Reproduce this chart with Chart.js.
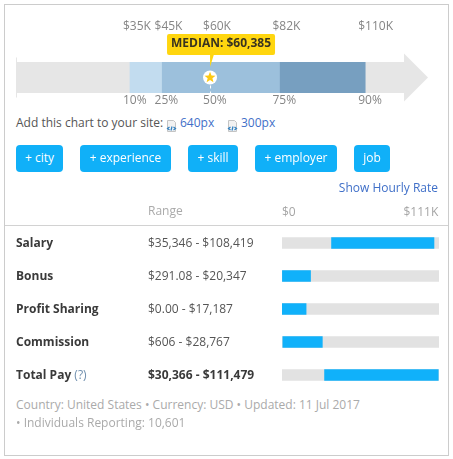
<!DOCTYPE html>
<html>
<head>
<meta charset="utf-8">
<script src="https://cdn.jsdelivr.net/npm/chart.js@4/dist/chart.umd.min.js"></script>
<style>
  html, body { margin: 0; padding: 0; background: #fff; }
  body { width: 453px; height: 459px; position: relative; overflow: hidden; font: 12px "Open Sans", sans-serif; color: #555; }
  #frame { position: absolute; left: 4px; top: 4px; width: 445px; height: 452px; box-sizing: border-box; border: 1px solid #ccc; }
  #rule { position: absolute; left: 5px; top: 225px; width: 443px; height: 1px; background: #d2d2d2; }
  canvas { position: absolute; left: 0; }
  #pctChart { top: 0; }
  #rangeChart { top: 200px; }
  .abs { position: absolute; white-space: nowrap; line-height: 16px; }
  a { color: #3f6fc8; text-decoration: none; }
  .btn { position: absolute; top: 145px; height: 27px; line-height: 26px; text-align: center; color: #fff; background: #10b0f8; border-radius: 4px; font-size: 12px; }
  .icon { position: absolute; top: 120px; }
  .lbl { font-weight: 700; color: #3a3a3a; left: 16px; }
  .rng { left: 148px; color: #555; }
  .note { color: #aaa; left: 16px; }
  b.q { font-weight: 400; color: #6f8fae; }
</style>
</head>
<body>
<div id="frame"></div>
<div id="rule"></div>
<canvas id="pctChart" width="453" height="112"></canvas>
<canvas id="rangeChart" width="453" height="195"></canvas>

<div class="abs" style="left:16px;top:115px;color:#555">Add this chart to your site:</div>
<svg class="icon" style="left:166px" width="12" height="12" viewBox="0 0 12 12"><path d="M1.5 .5h6l2 2v9h-8z" fill="#f2f2f2" stroke="#c4c4c4"/><path d="M3.500 7l-2 1.500 2 1.500M7.500 7l2 1.500-2 1.500M5 10.500l1-4" fill="none" stroke="#2f7fc0" stroke-width="1.200"/></svg>
<a class="abs" style="left:180px;top:115px">640px</a>
<svg class="icon" style="left:227px" width="12" height="12" viewBox="0 0 12 12"><path d="M1.5 .5h6l2 2v9h-8z" fill="#f2f2f2" stroke="#c4c4c4"/><path d="M3.500 7l-2 1.500 2 1.500M7.500 7l2 1.500-2 1.500M5 10.500l1-4" fill="none" stroke="#2f7fc0" stroke-width="1.200"/></svg>
<a class="abs" style="left:241px;top:115px">300px</a>

<div class="btn" style="left:16px;width:47px">+ city</div>
<div class="btn" style="left:80px;width:91px">+ experience</div>
<div class="btn" style="left:188px;width:50px">+ skill</div>
<div class="btn" style="left:255px;width:82px">+ employer</div>
<div class="btn" style="left:354px;width:36px">job</div>

<a class="abs" style="right:15px;top:180px">Show Hourly Rate</a>
<div class="abs" style="left:148px;top:203px;color:#aaa">Range</div>
<div id="rows"></div>

<div class="abs note" style="top:397px">Country: United States • Currency: USD • Updated: 11 Jul 2017</div>
<div class="abs note" style="top:415px">• Individuals Reporting: 10,601</div>

<script>
const FONT = '"Open Sans", sans-serif';

// percentile band
const pctNames = ['10%', '25%', '50%', '75%', '90%'];
const pctValues = [35000, 45000, 60385, 82400, 109600];
const pctColors = ['#c2dcef', '#9cc0dc', '#9cc0dc', '#779fc0'];
const bandMin = -1150;
const bandMax = 121900;

// pay ranges
const payNames = ['Salary', 'Bonus', 'Profit Sharing', 'Commission', 'Total Pay'];
const payLow = [35346, 291.08, 0, 606, 30366];
const payHigh = [108419, 20347, 17187, 28767, 111479];
const rangeMax = 112000;

const money = (v) => '$' + (v % 1 || v === 0 ? v.toFixed(2) : v.toLocaleString('en-US'));
const thousands = (v) => '$' + Math.round(v / 1000) + 'K';

// row text sits over the chart canvas
document.getElementById('rows').innerHTML = payNames.map((name, i) => {
  const top = 235 + i * 33;
  const isTotal = name === 'Total Pay';
  const range = `${money(payLow[i])} - ${money(payHigh[i])}`;
  return `<div class="abs lbl" style="top:${top}px">${name}${isTotal ? ' <b class="q">(?)</b>' : ''}</div>` +
    `<div class="abs rng" style="top:${top}px;${isTotal ? 'font-weight:700;color:#3a3a3a' : ''}">${range}</div>`;
}).join('');

const bandDecor = {
  id: 'bandDecor',
  afterDatasetsDraw(chart) {
    const { ctx, scales, chartArea } = chart;
    const cy = (chartArea.top + chartArea.bottom) / 2;
    const mx = scales.x.getPixelForValue(pctValues[2]);

    // arrow head and the little stop at the left end
    ctx.save();
    ctx.fillStyle = '#e6e6e6';
    ctx.beginPath();
    ctx.moveTo(chartArea.right, cy - 24);
    ctx.lineTo(chartArea.right + 24, cy);
    ctx.lineTo(chartArea.right, cy + 24);
    ctx.closePath();
    ctx.fill();
    ctx.fillRect(chartArea.left, cy - 20, 1, 40);

    // white marker line under the star
    ctx.strokeStyle = '#fff';
    ctx.setLineDash([3, 3]);
    ctx.beginPath();
    ctx.moveTo(mx + 0.5, cy + 8);
    ctx.lineTo(mx + 0.5, chartArea.bottom);
    ctx.stroke();
    ctx.setLineDash([]);

    // median callout
    ctx.fillStyle = '#ffd60f';
    ctx.beginPath();
    ctx.roundRect(mx - 43, 34, 108, 21, 2);
    ctx.fill();
    ctx.beginPath();
    ctx.moveTo(mx, 54);
    ctx.lineTo(mx + 4, 54);
    ctx.lineTo(mx, 67);
    ctx.closePath();
    ctx.fill();
    ctx.fillStyle = '#3a3420';
    ctx.font = `700 12px ${FONT}`;
    ctx.textAlign = 'center';
    ctx.textBaseline = 'middle';
    ctx.fillText('MEDIAN: ' + money(pctValues[2]), mx + 11, 44);

    // star in a white disc
    ctx.fillStyle = '#fff';
    ctx.beginPath();
    ctx.arc(mx, cy, 7, 0, Math.PI * 2);
    ctx.fill();
    ctx.fillStyle = '#fcc914';
    ctx.beginPath();
    for (let i = 0; i < 10; i++) {
      const r = i % 2 ? 2.5 : 5.8;
      const a = -Math.PI / 2 + (i * Math.PI) / 5;
      ctx.lineTo(mx + r * Math.cos(a), cy + r * Math.sin(a));
    }
    ctx.closePath();
    ctx.fill();
    ctx.restore();
  },
};

const bandSegments = pctColors.map((color, i) => ({
  data: [[pctValues[i], pctValues[i + 1]]],
  backgroundColor: color,
  barPercentage: 1,
  categoryPercentage: 1,
  grouped: false,
  order: 1,
}));

new Chart(document.getElementById('pctChart'), {
  type: 'bar',
  data: {
    labels: ['pay'],
    datasets: [
      ...bandSegments,
      {
        data: [[bandMin, bandMax]],
        backgroundColor: '#e6e6e6',
        barPercentage: 1,
        categoryPercentage: 1,
        grouped: false,
        order: 2,
      },
    ],
  },
  options: {
    indexAxis: 'y',
    responsive: false,
    animation: false,
    layout: { padding: { left: 16, right: 49 } },
    plugins: { legend: { display: false }, tooltip: { enabled: false } },
    scales: {
      y: { display: false, stacked: false },
      x: {
        position: 'top',
        min: bandMin,
        max: bandMax,
        afterFit: (scale) => { scale.height = 62; },
        afterBuildTicks: (scale) => { scale.ticks = pctValues.map((value) => ({ value })); },
        grid: { display: false, drawTicks: false },
        border: { display: false },
        ticks: {
          autoSkip: false,
          maxRotation: 0,
          align: 'start',
          labelOffset: -7,
          padding: 28,
          color: '#858585',
          font: { family: FONT, size: 12 },
          callback: (value) => thousands(value),
        },
      },
      pct: {
        axis: 'x',
        position: 'bottom',
        min: bandMin,
        max: bandMax,
        afterFit: (scale) => { scale.height = 19; },
        afterBuildTicks: (scale) => { scale.ticks = pctValues.map((value) => ({ value })); },
        grid: { display: false, drawTicks: false },
        border: { display: false },
        ticks: {
          autoSkip: false,
          maxRotation: 0,
          align: 'start',
          labelOffset: -7,
          padding: 0,
          color: '#858585',
          font: { family: FONT, size: 12 },
          callback: (value) => pctNames[pctValues.indexOf(value)],
        },
      },
    },
  },
  plugins: [bandDecor],
});

new Chart(document.getElementById('rangeChart'), {
  type: 'bar',
  data: {
    labels: payNames,
    datasets: [
      {
        data: payNames.map((_, i) => [payLow[i], payHigh[i]]),
        backgroundColor: '#10b1fa',
        barThickness: 11,
        grouped: false,
        order: 1,
      },
      {
        data: payNames.map(() => [0, rangeMax]),
        backgroundColor: '#e2e2e2',
        barThickness: 11,
        grouped: false,
        order: 2,
      },
    ],
  },
  options: {
    indexAxis: 'y',
    responsive: false,
    animation: false,
    layout: { padding: { left: 282, right: 14, bottom: 3.5 } },
    plugins: { legend: { display: false }, tooltip: { enabled: false } },
    scales: {
      y: { display: false },
      x: {
        position: 'top',
        min: 0,
        max: rangeMax,
        afterFit: (scale) => { scale.height = 26.5; },
        afterBuildTicks: (scale) => { scale.ticks = [0, payHigh[4]].map((value) => ({ value })); },
        grid: { display: false, drawTicks: false },
        border: { display: false },
        ticks: {
          autoSkip: false,
          maxRotation: 0,
          align: 'inner',
          padding: 7,
          color: '#a5a5a5',
          font: { family: FONT, size: 12 },
          callback: (value) => thousands(value).replace('$0K', '$0'),
        },
      },
    },
  },
});
</script>
</body>
</html>
